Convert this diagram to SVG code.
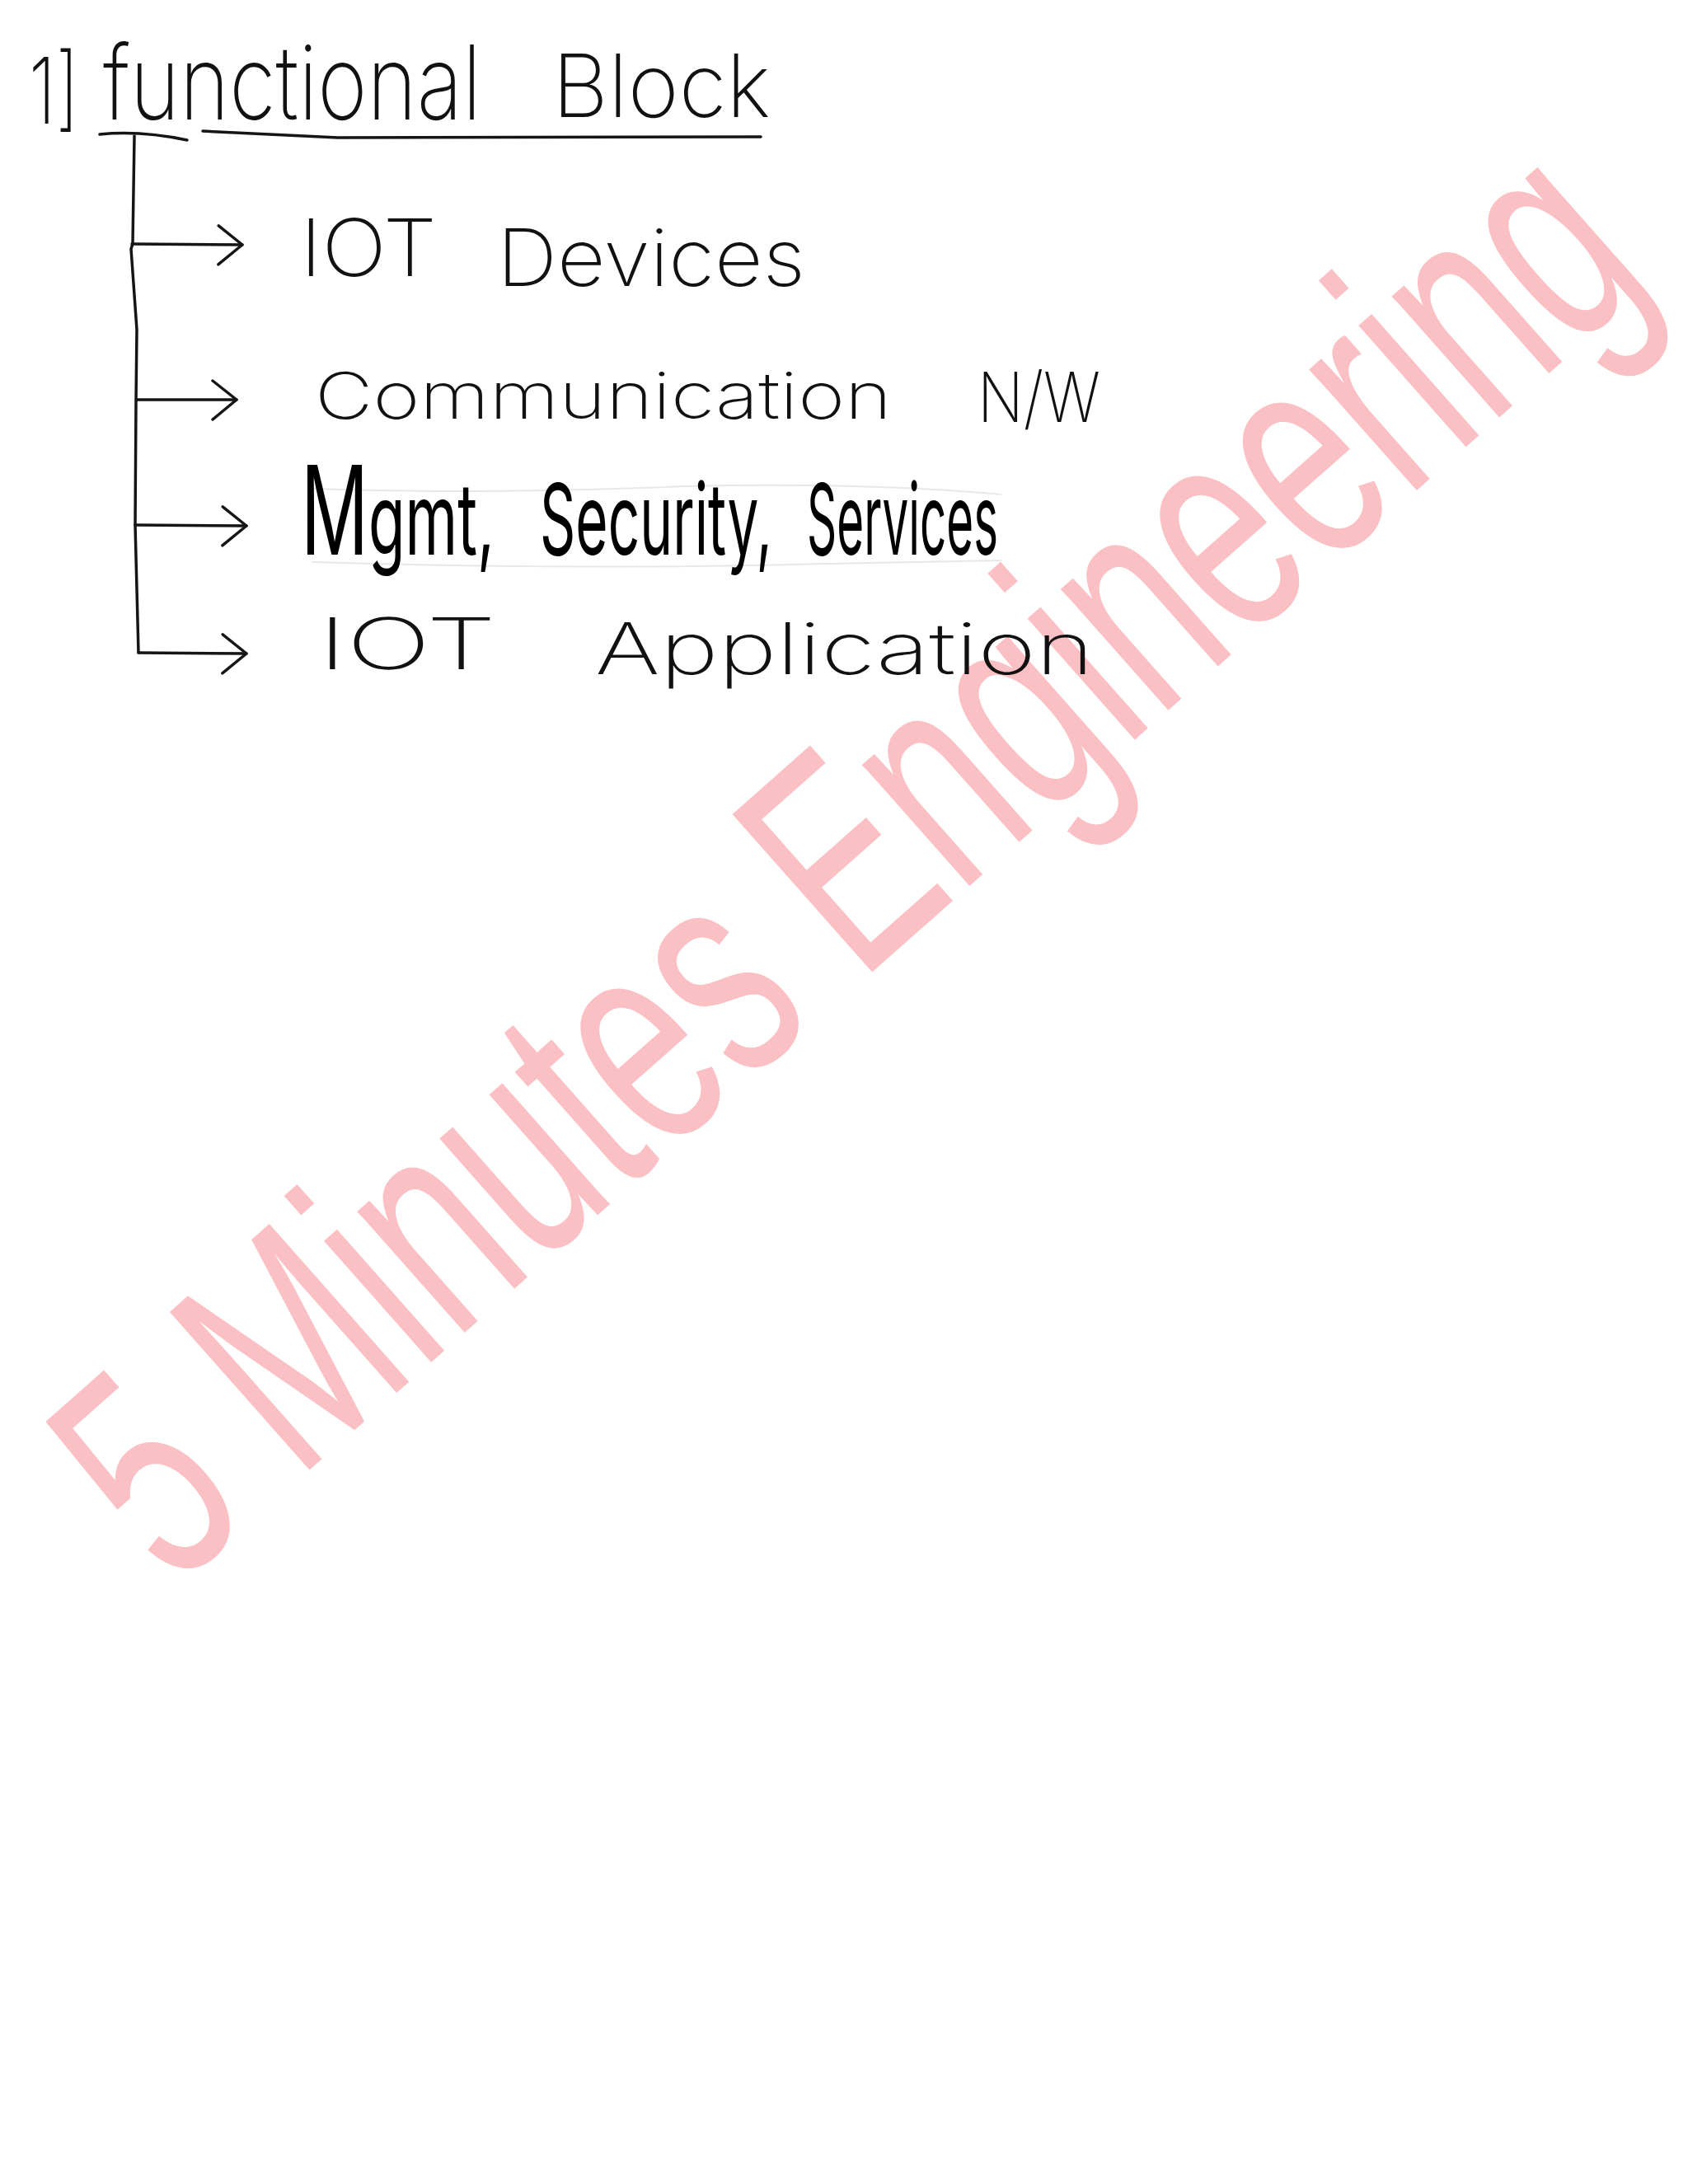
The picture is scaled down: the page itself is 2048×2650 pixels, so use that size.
<svg xmlns="http://www.w3.org/2000/svg" width="2048" height="2650" viewBox="0 0 2048 2650">
<style>
.hw{font-family:Inter,"Open Sans","Liberation Sans",sans-serif;font-weight:200;fill:#111}
.hb{font-family:Inter,"Open Sans","Liberation Sans",sans-serif;font-weight:400;fill:#000}
.ln{fill:none;stroke:#151515;stroke-width:3.5;stroke-linecap:round;stroke-linejoin:round}
.wm{font-family:"Liberation Sans",Arial,sans-serif;fill:#fbc0c4}
</style>
<defs>
<marker id="ah" markerUnits="userSpaceOnUse" markerWidth="40" markerHeight="60" viewBox="-34 -28 40 56" refX="0" refY="0" orient="auto">
<path d="M-29,-23 L0,0 L-29,24" fill="none" stroke="#151515" stroke-width="3.5" stroke-linecap="round" stroke-linejoin="round"/>
</marker>
</defs>
<rect width="2048" height="2650" fill="#fff"/>
<g id="watermark">
<text class="wm" x="210" y="1930" font-size="372" textLength="2400" lengthAdjust="spacingAndGlyphs" transform="rotate(-41.5 210 1930)">5 Minutes Engineering</text>
</g>
<g id="title">
<text class="hw" x="35" y="150" font-size="112" textLength="61" lengthAdjust="spacingAndGlyphs">1]</text>
<text class="hw" x="125" y="145" font-size="125" textLength="459" lengthAdjust="spacingAndGlyphs">functional</text>
<text class="hw" x="670" y="142" font-size="106" textLength="265" lengthAdjust="spacingAndGlyphs">Block</text>
<path class="ln" d="M121,163 Q170,158 227,170"/>
<path class="ln" d="M246,159 Q330,163 410,167 L923,166"/>
</g>
<g id="connectors">
<path class="ln" d="M163,165 L161,296 L159,302 L166,400 L165,487 L164,637 L168,792"/>
<path class="ln" d="M160,296 L294,297" marker-end="url(#ah)"/>
<path class="ln" d="M166,485 L287,485" marker-end="url(#ah)"/>
<path class="ln" d="M164,637 L299,638" marker-end="url(#ah)"/>
<path class="ln" d="M168,792 L299,793" marker-end="url(#ah)"/>
</g>
<g id="node-iot-devices">
<text class="hw" x="364" y="335" font-size="96" textLength="166" lengthAdjust="spacingAndGlyphs">IOT</text>
<text class="hw" x="603" y="347" font-size="96" textLength="374" lengthAdjust="spacingAndGlyphs">Devices</text>
</g>
<g id="node-communication">
<text class="hw" x="382" y="508" font-size="78" textLength="700" lengthAdjust="spacingAndGlyphs">Communication</text>
<text class="hw" x="1186" y="512" font-size="84" textLength="149" lengthAdjust="spacingAndGlyphs">N/W</text>
</g>
<g id="node-mgmt">
<path d="M378,593 Q600,600 830,590 Q1050,585 1215,600 M378,682 Q700,692 1000,684 Q1120,682 1215,680" fill="none" stroke="#e8e8e8" stroke-width="2"/>
<text class="hb" x="365" y="673" font-size="120" textLength="235" lengthAdjust="spacingAndGlyphs"><tspan font-size="150">M</tspan>gmt,</text>
<text class="hb" x="655" y="673" font-size="120" textLength="282" lengthAdjust="spacingAndGlyphs">Security,</text>
<text class="hb" x="979" y="673" font-size="120" textLength="232" lengthAdjust="spacingAndGlyphs">Services</text>
</g>
<g id="node-iot-application">
<text class="hw" x="386" y="812" font-size="86" textLength="216" lengthAdjust="spacingAndGlyphs">IOT</text>
<text class="hw" x="722" y="818" font-size="86" textLength="605" lengthAdjust="spacingAndGlyphs">Application</text>
</g>
</svg>
